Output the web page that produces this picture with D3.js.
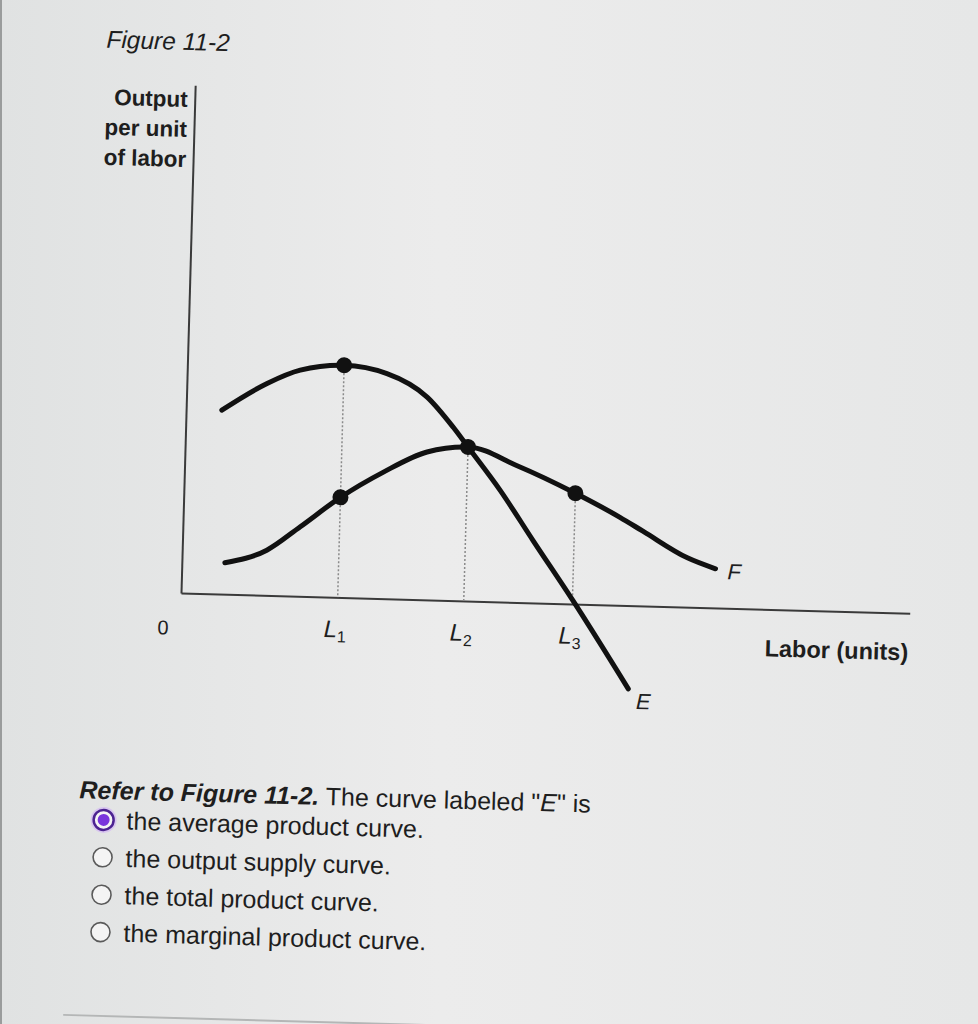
<!DOCTYPE html>
<html lang="en">
    <head>
        <meta charset="UTF-8">
        <title>Figure 11-2</title>
        <style>
            body { margin: 0; background: #e7e8e8; }
            text { font-family: "Liberation Sans", Arial, sans-serif; fill: #1e1e1e; }
        </style>
    </head>
    <script src="https://cdn.jsdelivr.net/npm/d3@7"></script>
    <body>
        <svg width="978" height="1024"></svg>
    </body>

    <script>
        // curve E (falls through the axis)
        var eX = [4.9, 11.0, 15.5, 21.5, 27.4, 33.0, 36.7, 38.8, 43.4, 48.1, 53.8, 61.7];
        var eY = [36.2, 41.7, 44.5, 45.7, 44.3, 39.9, 34.1, 30.3, 21.9, 12.2, 0.6, -16.4];

        // curve F
        var fX = [5.9, 11.6, 16.1, 21.5, 27.3, 33.2, 38.8, 45.6, 53.7, 59.9, 63.1, 69.3, 73.2];
        var fY = [6.2, 8.9, 13.7, 19.7, 24.9, 29.1, 30.3, 26.9, 21.8, 17.3, 14.7, 9.7, 7.7];

        // labour levels on the x axis
        var lNames = ["L", "L", "L"];
        var lSubs = ["1", "2", "3"];
        var lValues = [21.5, 38.8, 53.7];
        var dropTops = [45.7, 30.3, 21.8];

        // dots
        var dotX = [21.5, 21.5, 38.8, 53.7];
        var dotY = [45.7, 19.7, 30.3, 21.8];

        var options = [
            "the average product curve.",
            "the output supply curve.",
            "the total product curve.",
            "the marginal product curve."
        ];
        var selected = 0;

        var svg = d3.select("svg");

        // background (photo of a screen)
        var defs = svg.append("defs");
        var grad = defs.append("linearGradient").attr("id", "bg");
        grad.append("stop").attr("offset", "0%").attr("stop-color", "#e0e2e2");
        grad.append("stop").attr("offset", "45%").attr("stop-color", "#ececec");
        grad.append("stop").attr("offset", "100%").attr("stop-color", "#e6e7e7");
        svg.append("rect").attr("width", 978).attr("height", 1024).attr("fill", "url(#bg)");
        svg.append("rect").attr("width", 2).attr("height", 1024).attr("fill", "#9a9c9c");

        // whole page is slightly tilted in the photo
        var root = svg.append("g").attr("transform", "rotate(1.6,181,593)");

        var x = d3.scaleLinear().domain([0, 100]).range([0, 729]);
        var y = d3.scaleLinear().domain([0, 100]).range([0, -508]);

        var chart = root.append("g").attr("transform", "translate(181,593)");

        chart.append("g")
            .call(d3.axisBottom(x).tickValues([]).tickSizeOuter(0))
            .select(".domain").attr("stroke", "#3a3a3a").attr("stroke-width", 2);
        chart.append("g")
            .call(d3.axisLeft(y).tickValues([]).tickSizeOuter(0))
            .select(".domain").attr("stroke", "#3a3a3a").attr("stroke-width", 2);

        // dotted drop lines
        chart.selectAll(".drop")
            .data(lValues)
            .join("line")
            .attr("class", "drop")
            .attr("x1", function(d) { return x(d); })
            .attr("x2", function(d) { return x(d); })
            .attr("y1", function(d, i) { return y(dropTops[i]); })
            .attr("y2", y(0))
            .attr("stroke", "#8a8a8a")
            .attr("stroke-width", 1.5)
            .attr("stroke-dasharray", "2,2");

        var line = d3.line()
            .x(function(d) { return x(d[0]); })
            .y(function(d) { return y(d[1]); })
            .curve(d3.curveMonotoneX);

        var curves = [d3.zip(eX, eY), d3.zip(fX, fY)];
        chart.selectAll(".curve")
            .data(curves)
            .join("path")
            .attr("class", "curve")
            .attr("d", line)
            .attr("fill", "none")
            .attr("stroke", "#111")
            .attr("stroke-width", 5)
            .attr("stroke-linecap", "round");

        chart.selectAll(".dot")
            .data(d3.zip(dotX, dotY))
            .join("circle")
            .attr("class", "dot")
            .attr("cx", function(d) { return x(d[0]); })
            .attr("cy", function(d) { return y(d[1]); })
            .attr("r", 8)
            .attr("fill", "#111");

        // curve labels
        chart.append("text")
            .attr("x", x(eX[eX.length - 1]) + 8)
            .attr("y", y(eY[eY.length - 1]) + 20)
            .attr("font-size", 22).attr("font-style", "italic")
            .text("E");
        chart.append("text")
            .attr("x", x(fX[fX.length - 1]) + 12)
            .attr("y", y(fY[fY.length - 1]) + 10)
            .attr("font-size", 22).attr("font-style", "italic")
            .text("F");

        // x labels
        chart.append("text")
            .attr("x", -17).attr("y", 42)
            .attr("font-size", 20).attr("text-anchor", "middle")
            .text("0");
        var lt = chart.selectAll(".lab")
            .data(lValues)
            .join("text")
            .attr("class", "lab")
            .attr("x", function(d) { return x(d) - 13; })
            .attr("y", 40)
            .attr("font-size", 24).attr("font-style", "italic");
        lt.append("tspan").text(function(d, i) { return lNames[i]; });
        lt.append("tspan").attr("font-size", 16).attr("font-style", "normal").attr("dy", 5)
            .text(function(d, i) { return lSubs[i]; });

        chart.append("text")
            .attr("x", 585).attr("y", 47)
            .attr("font-size", 23.5).attr("font-weight", "bold")
            .text("Labor (units)");

        // y label
        var yl = root.append("text")
            .attr("x", 174).attr("y", 107)
            .attr("font-size", 22.5).attr("font-weight", "bold")
            .attr("text-anchor", "end");
        ["Output", "per unit", "of labor"].forEach(function(s, i) {
            yl.append("tspan").attr("x", 174).attr("dy", i === 0 ? 0 : 30).text(s);
        });

        root.append("text")
            .attr("x", 91).attr("y", 50)
            .attr("font-size", 24.5).attr("font-style", "italic")
            .text("Figure 11-2");

        // question
        var q = root.append("text").attr("x", 85).attr("y", 801).attr("font-size", 25);
        q.append("tspan").attr("font-weight", "bold").attr("font-style", "italic").text("Refer to Figure 11-2.");
        q.append("tspan").text(" The curve labeled \"");
        q.append("tspan").attr("font-style", "italic").text("E");
        q.append("tspan").text("\" is");

        var opt = root.selectAll(".opt")
            .data(options)
            .join("g")
            .attr("class", "opt")
            .attr("transform", function(d, i) { return "translate(110," + (822 + i * 37.4) + ")"; });

        opt.filter(function(d, i) { return i === selected; })
            .append("circle").attr("r", 13).attr("fill", "#d8c6ef");
        opt.append("circle")
            .attr("r", function(d, i) { return i === selected ? 10 : 9.5; })
            .attr("fill", "#f4f4f4")
            .attr("stroke", function(d, i) { return i === selected ? "#4c2391" : "#5a5a5a"; })
            .attr("stroke-width", function(d, i) { return i === selected ? 2.5 : 1.6; });
        opt.filter(function(d, i) { return i === selected; })
            .append("circle").attr("r", 6).attr("fill", "#7a36dc");
        opt.append("text")
            .attr("x", 23).attr("y", 9)
            .attr("font-size", 25)
            .attr("fill", "#262626")
            .text(function(d) { return d; });

        root.append("line")
            .attr("x1", 75).attr("x2", 475)
            .attr("y1", 1018).attr("y2", 1018)
            .attr("stroke", "#b4b6b6").attr("stroke-width", 2);
    </script>
</html>
